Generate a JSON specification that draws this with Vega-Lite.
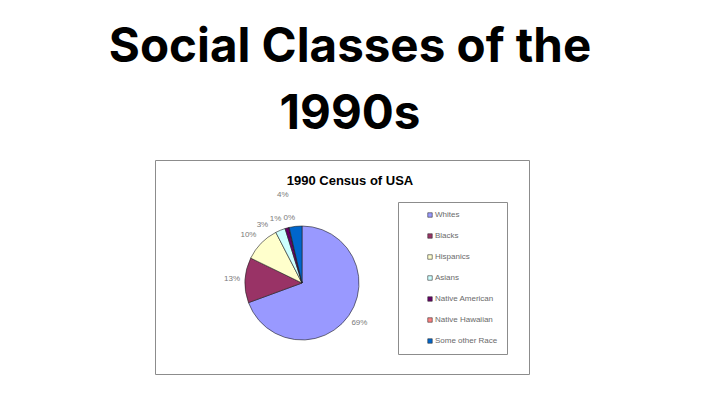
{
  "$schema": "https://vega.github.io/schema/vega-lite/v6.json",
  "autosize": "none",
  "padding": {"left": 155, "top": 160, "right": 175, "bottom": 22},
  "background": "white",
  "width": 374,
  "height": 214,
  "view": {"stroke": "#8c8c8c", "strokeWidth": 1, "fill": "white"},
  "title": {
    "text": ["Social Classes of the", "1990s"],
    "subtitle": "1990 Census of USA",
    "font": "Inter",
    "fontSize": 47.5,
    "fontWeight": "bold",
    "lineHeight": 67,
    "color": "#000000",
    "anchor": "middle",
    "dx": 8,
    "offset": -28,
    "subtitleFont": "Liberation Sans",
    "subtitleFontSize": 13,
    "subtitleFontWeight": "bold",
    "subtitleColor": "#000000",
    "subtitlePadding": 37
  },
  "data": {
    "values": [
      {"race": "Whites", "share": 0.694, "rank": 1},
      {"race": "Blacks", "share": 0.128, "rank": 2},
      {"race": "Hispanics", "share": 0.102, "rank": 3},
      {"race": "Asians", "share": 0.028, "rank": 4},
      {"race": "Native American", "share": 0.011, "rank": 5},
      {"race": "Native Hawaiian", "share": 0.001, "rank": 6},
      {"race": "Some other Race", "share": 0.036, "rank": 7}
    ]
  },
  "encoding": {
    "theta": {"field": "share", "type": "quantitative", "stack": true},
    "order": {"field": "rank", "type": "quantitative"}
  },
  "layer": [
    {
      "mark": {"type": "arc", "radius": 57, "xOffset": -40, "yOffset": 16, "stroke": "#222222", "strokeWidth": 0.6},
      "encoding": {
        "color": {
          "field": "race",
          "type": "nominal",
          "scale": {
            "domain": ["Whites", "Blacks", "Hispanics", "Asians", "Native American", "Native Hawaiian", "Some other Race"],
            "range": ["#9999FF", "#993366", "#FFFFCC", "#CCFFFF", "#660066", "#FF8080", "#0066CC"]
          },
          "legend": {
            "title": null,
            "orient": "none",
            "legendX": 243,
            "legendY": 42,
            "strokeColor": "#8c8c8c",
            "fillColor": "white",
            "padding": 9,
            "symbolOffset": 19,
            "symbolType": "square",
            "symbolSize": 20,
            "symbolStrokeColor": "#333333",
            "symbolStrokeWidth": 0.6,
            "labelFont": "Liberation Sans",
            "labelFontSize": 8,
            "labelColor": "#6a6a6a",
            "labelOffset": 1,
            "rowPadding": 13
          }
        }
      }
    },
    {
      "mark": {"type": "text", "radius": 70, "xOffset": -40, "yOffset": 16, "font": "Liberation Sans", "fontSize": 8, "color": "#7a7a7a"},
      "encoding": {
        "text": {
          "condition": {"test": "datum.share > 0.11", "field": "share", "format": ".0%"},
          "value": ""
        }
      }
    },
    {
      "mark": {"type": "text", "radius": 72, "xOffset": -42, "yOffset": 18, "font": "Liberation Sans", "fontSize": 8, "color": "#7a7a7a"},
      "encoding": {
        "text": {
          "condition": {"test": "datum.race === 'Hispanics'", "field": "share", "format": ".0%"},
          "value": ""
        }
      }
    },
    {
      "mark": {"type": "text", "radius": 70, "xOffset": -53, "yOffset": 23, "font": "Liberation Sans", "fontSize": 8, "color": "#7a7a7a"},
      "encoding": {
        "text": {
          "condition": {"test": "datum.race === 'Asians'", "field": "share", "format": ".0%"},
          "value": ""
        }
      }
    },
    {
      "mark": {"type": "text", "radius": 70, "xOffset": -48, "yOffset": 20, "font": "Liberation Sans", "fontSize": 8, "color": "#7a7a7a"},
      "encoding": {
        "text": {
          "condition": {"test": "datum.race === 'Native American'", "field": "share", "format": ".0%"},
          "value": ""
        }
      }
    },
    {
      "mark": {"type": "text", "radius": 69, "xOffset": -37, "yOffset": 18, "font": "Liberation Sans", "fontSize": 8, "color": "#7a7a7a"},
      "encoding": {
        "text": {
          "condition": {"test": "datum.race === 'Native Hawaiian'", "field": "share", "format": ".0%"},
          "value": ""
        }
      }
    },
    {
      "mark": {"type": "text", "radius": 90, "xOffset": -49, "yOffset": 17, "font": "Liberation Sans", "fontSize": 8, "color": "#7a7a7a"},
      "encoding": {
        "text": {
          "condition": {"test": "datum.race === 'Some other Race'", "field": "share", "format": ".0%"},
          "value": ""
        }
      }
    }
  ]
}
